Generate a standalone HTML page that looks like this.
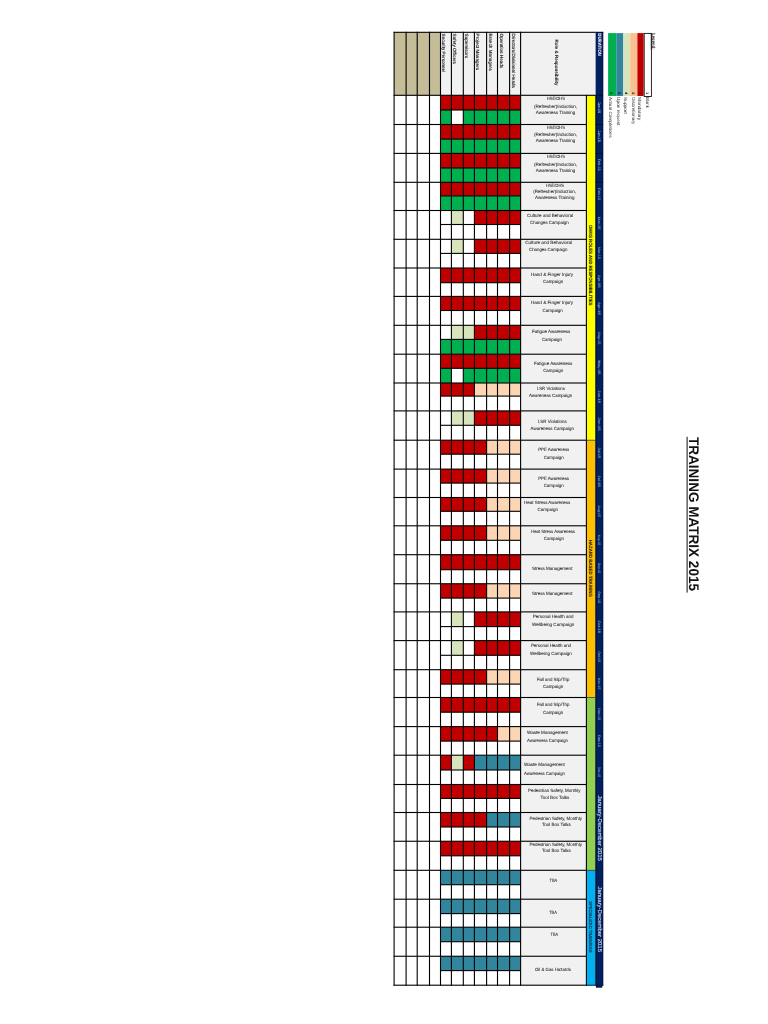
<!DOCTYPE html>
<html lang="en">
<head>
<meta charset="utf-8">
<title>Training Matrix 2015</title>
<style>
html,body{margin:0;padding:0;background:#fff;}
body{width:768px;height:1024px;overflow:hidden;position:relative;}
svg{display:block;position:absolute;left:0;top:0;font-family:"Liberation Sans", sans-serif;}
text{white-space:pre;}
</style>
</head>
<body>
<svg width="768" height="1024" viewBox="0 0 768 1024" shape-rendering="geometricPrecision" text-rendering="geometricPrecision">
<rect x="0" y="0" width="768" height="1024" fill="#ffffff"/>
<rect x="394.10" y="32.30" width="46.40" height="63.00" fill="#c4bd97"/>
<rect x="440.50" y="32.30" width="154.60" height="63.00" fill="#f1f1f1"/>
<rect x="520.60" y="95.30" width="65.80" height="889.90" fill="#f1f1f1"/>
<rect x="440.50" y="95.30" width="10.90" height="14.70" fill="#c00000"/>
<rect x="440.50" y="110.00" width="10.90" height="14.50" fill="#00b050"/>
<rect x="451.40" y="95.30" width="11.90" height="14.70" fill="#c00000"/>
<rect x="463.30" y="95.30" width="11.10" height="14.70" fill="#c00000"/>
<rect x="463.30" y="110.00" width="11.10" height="14.50" fill="#00b050"/>
<rect x="474.40" y="95.30" width="12.20" height="14.70" fill="#c00000"/>
<rect x="474.40" y="110.00" width="12.20" height="14.50" fill="#00b050"/>
<rect x="486.60" y="95.30" width="10.90" height="14.70" fill="#c00000"/>
<rect x="486.60" y="110.00" width="10.90" height="14.50" fill="#00b050"/>
<rect x="497.50" y="95.30" width="12.10" height="14.70" fill="#c00000"/>
<rect x="497.50" y="110.00" width="12.10" height="14.50" fill="#00b050"/>
<rect x="509.60" y="95.30" width="11.00" height="14.70" fill="#c00000"/>
<rect x="509.60" y="110.00" width="11.00" height="14.50" fill="#00b050"/>
<rect x="440.50" y="124.50" width="10.90" height="14.60" fill="#c00000"/>
<rect x="440.50" y="139.10" width="10.90" height="14.30" fill="#00b050"/>
<rect x="451.40" y="124.50" width="11.90" height="14.60" fill="#c00000"/>
<rect x="451.40" y="139.10" width="11.90" height="14.30" fill="#00b050"/>
<rect x="463.30" y="124.50" width="11.10" height="14.60" fill="#c00000"/>
<rect x="463.30" y="139.10" width="11.10" height="14.30" fill="#00b050"/>
<rect x="474.40" y="124.50" width="12.20" height="14.60" fill="#c00000"/>
<rect x="474.40" y="139.10" width="12.20" height="14.30" fill="#00b050"/>
<rect x="486.60" y="124.50" width="10.90" height="14.60" fill="#c00000"/>
<rect x="486.60" y="139.10" width="10.90" height="14.30" fill="#00b050"/>
<rect x="497.50" y="124.50" width="12.10" height="14.60" fill="#c00000"/>
<rect x="497.50" y="139.10" width="12.10" height="14.30" fill="#00b050"/>
<rect x="509.60" y="124.50" width="11.00" height="14.60" fill="#c00000"/>
<rect x="509.60" y="139.10" width="11.00" height="14.30" fill="#00b050"/>
<rect x="440.50" y="153.40" width="10.90" height="14.60" fill="#c00000"/>
<rect x="440.50" y="168.00" width="10.90" height="14.30" fill="#00b050"/>
<rect x="451.40" y="153.40" width="11.90" height="14.60" fill="#c00000"/>
<rect x="451.40" y="168.00" width="11.90" height="14.30" fill="#00b050"/>
<rect x="463.30" y="153.40" width="11.10" height="14.60" fill="#c00000"/>
<rect x="463.30" y="168.00" width="11.10" height="14.30" fill="#00b050"/>
<rect x="474.40" y="153.40" width="12.20" height="14.60" fill="#c00000"/>
<rect x="474.40" y="168.00" width="12.20" height="14.30" fill="#00b050"/>
<rect x="486.60" y="153.40" width="10.90" height="14.60" fill="#c00000"/>
<rect x="486.60" y="168.00" width="10.90" height="14.30" fill="#00b050"/>
<rect x="497.50" y="153.40" width="12.10" height="14.60" fill="#c00000"/>
<rect x="497.50" y="168.00" width="12.10" height="14.30" fill="#00b050"/>
<rect x="509.60" y="153.40" width="11.00" height="14.60" fill="#c00000"/>
<rect x="509.60" y="168.00" width="11.00" height="14.30" fill="#00b050"/>
<rect x="440.50" y="182.30" width="10.90" height="13.60" fill="#c00000"/>
<rect x="440.50" y="195.90" width="10.90" height="14.60" fill="#00b050"/>
<rect x="451.40" y="182.30" width="11.90" height="13.60" fill="#c00000"/>
<rect x="451.40" y="195.90" width="11.90" height="14.60" fill="#00b050"/>
<rect x="463.30" y="182.30" width="11.10" height="13.60" fill="#c00000"/>
<rect x="463.30" y="195.90" width="11.10" height="14.60" fill="#00b050"/>
<rect x="474.40" y="182.30" width="12.20" height="13.60" fill="#c00000"/>
<rect x="474.40" y="195.90" width="12.20" height="14.60" fill="#00b050"/>
<rect x="486.60" y="182.30" width="10.90" height="13.60" fill="#c00000"/>
<rect x="486.60" y="195.90" width="10.90" height="14.60" fill="#00b050"/>
<rect x="497.50" y="182.30" width="12.10" height="13.60" fill="#c00000"/>
<rect x="497.50" y="195.90" width="12.10" height="14.60" fill="#00b050"/>
<rect x="509.60" y="182.30" width="11.00" height="13.60" fill="#c00000"/>
<rect x="509.60" y="195.90" width="11.00" height="14.60" fill="#00b050"/>
<rect x="451.40" y="210.50" width="11.90" height="14.00" fill="#d7e4bc"/>
<rect x="474.40" y="210.50" width="12.20" height="14.00" fill="#c00000"/>
<rect x="486.60" y="210.50" width="10.90" height="14.00" fill="#c00000"/>
<rect x="497.50" y="210.50" width="12.10" height="14.00" fill="#c00000"/>
<rect x="509.60" y="210.50" width="11.00" height="14.00" fill="#c00000"/>
<rect x="451.40" y="239.30" width="11.90" height="14.10" fill="#d7e4bc"/>
<rect x="474.40" y="239.30" width="12.20" height="14.10" fill="#c00000"/>
<rect x="486.60" y="239.30" width="10.90" height="14.10" fill="#c00000"/>
<rect x="497.50" y="239.30" width="12.10" height="14.10" fill="#c00000"/>
<rect x="509.60" y="239.30" width="11.00" height="14.10" fill="#c00000"/>
<rect x="440.50" y="268.00" width="10.90" height="14.70" fill="#c00000"/>
<rect x="451.40" y="268.00" width="11.90" height="14.70" fill="#c00000"/>
<rect x="463.30" y="268.00" width="11.10" height="14.70" fill="#c00000"/>
<rect x="474.40" y="268.00" width="12.20" height="14.70" fill="#c00000"/>
<rect x="486.60" y="268.00" width="10.90" height="14.70" fill="#c00000"/>
<rect x="497.50" y="268.00" width="12.10" height="14.70" fill="#c00000"/>
<rect x="509.60" y="268.00" width="11.00" height="14.70" fill="#c00000"/>
<rect x="440.50" y="296.40" width="10.90" height="14.10" fill="#c00000"/>
<rect x="451.40" y="296.40" width="11.90" height="14.10" fill="#c00000"/>
<rect x="463.30" y="296.40" width="11.10" height="14.10" fill="#c00000"/>
<rect x="474.40" y="296.40" width="12.20" height="14.10" fill="#c00000"/>
<rect x="486.60" y="296.40" width="10.90" height="14.10" fill="#c00000"/>
<rect x="497.50" y="296.40" width="12.10" height="14.10" fill="#c00000"/>
<rect x="509.60" y="296.40" width="11.00" height="14.10" fill="#c00000"/>
<rect x="440.50" y="339.40" width="10.90" height="14.80" fill="#00b050"/>
<rect x="451.40" y="325.30" width="11.90" height="14.10" fill="#d7e4bc"/>
<rect x="451.40" y="339.40" width="11.90" height="14.80" fill="#00b050"/>
<rect x="463.30" y="325.30" width="11.10" height="14.10" fill="#d7e4bc"/>
<rect x="463.30" y="339.40" width="11.10" height="14.80" fill="#00b050"/>
<rect x="474.40" y="325.30" width="12.20" height="14.10" fill="#c00000"/>
<rect x="474.40" y="339.40" width="12.20" height="14.80" fill="#00b050"/>
<rect x="486.60" y="325.30" width="10.90" height="14.10" fill="#c00000"/>
<rect x="486.60" y="339.40" width="10.90" height="14.80" fill="#00b050"/>
<rect x="497.50" y="325.30" width="12.10" height="14.10" fill="#c00000"/>
<rect x="497.50" y="339.40" width="12.10" height="14.80" fill="#00b050"/>
<rect x="509.60" y="325.30" width="11.00" height="14.10" fill="#c00000"/>
<rect x="509.60" y="339.40" width="11.00" height="14.80" fill="#00b050"/>
<rect x="440.50" y="354.20" width="10.90" height="14.10" fill="#c00000"/>
<rect x="440.50" y="368.30" width="10.90" height="14.70" fill="#00b050"/>
<rect x="451.40" y="354.20" width="11.90" height="14.10" fill="#c00000"/>
<rect x="463.30" y="354.20" width="11.10" height="14.10" fill="#c00000"/>
<rect x="463.30" y="368.30" width="11.10" height="14.70" fill="#00b050"/>
<rect x="474.40" y="354.20" width="12.20" height="14.10" fill="#c00000"/>
<rect x="474.40" y="368.30" width="12.20" height="14.70" fill="#00b050"/>
<rect x="486.60" y="354.20" width="10.90" height="14.10" fill="#c00000"/>
<rect x="486.60" y="368.30" width="10.90" height="14.70" fill="#00b050"/>
<rect x="497.50" y="354.20" width="12.10" height="14.10" fill="#c00000"/>
<rect x="497.50" y="368.30" width="12.10" height="14.70" fill="#00b050"/>
<rect x="509.60" y="354.20" width="11.00" height="14.10" fill="#c00000"/>
<rect x="509.60" y="368.30" width="11.00" height="14.70" fill="#00b050"/>
<rect x="440.50" y="383.00" width="10.90" height="13.10" fill="#c00000"/>
<rect x="451.40" y="383.00" width="11.90" height="13.10" fill="#c00000"/>
<rect x="463.30" y="383.00" width="11.10" height="13.10" fill="#c00000"/>
<rect x="474.40" y="383.00" width="12.20" height="13.10" fill="#fcd5b4"/>
<rect x="486.60" y="383.00" width="10.90" height="13.10" fill="#fcd5b4"/>
<rect x="497.50" y="383.00" width="12.10" height="13.10" fill="#fcd5b4"/>
<rect x="509.60" y="383.00" width="11.00" height="13.10" fill="#fcd5b4"/>
<rect x="451.40" y="410.90" width="11.90" height="14.40" fill="#d7e4bc"/>
<rect x="463.30" y="410.90" width="11.10" height="14.40" fill="#d7e4bc"/>
<rect x="474.40" y="410.90" width="12.20" height="14.40" fill="#c00000"/>
<rect x="486.60" y="410.90" width="10.90" height="14.40" fill="#c00000"/>
<rect x="497.50" y="410.90" width="12.10" height="14.40" fill="#c00000"/>
<rect x="509.60" y="410.90" width="11.00" height="14.40" fill="#c00000"/>
<rect x="440.50" y="440.20" width="10.90" height="14.00" fill="#c00000"/>
<rect x="451.40" y="440.20" width="11.90" height="14.00" fill="#c00000"/>
<rect x="463.30" y="440.20" width="11.10" height="14.00" fill="#c00000"/>
<rect x="474.40" y="440.20" width="12.20" height="14.00" fill="#c00000"/>
<rect x="486.60" y="440.20" width="10.90" height="14.00" fill="#fcd5b4"/>
<rect x="497.50" y="440.20" width="12.10" height="14.00" fill="#fcd5b4"/>
<rect x="509.60" y="440.20" width="11.00" height="14.00" fill="#fcd5b4"/>
<rect x="440.50" y="469.10" width="10.90" height="14.00" fill="#c00000"/>
<rect x="451.40" y="469.10" width="11.90" height="14.00" fill="#c00000"/>
<rect x="463.30" y="469.10" width="11.10" height="14.00" fill="#c00000"/>
<rect x="474.40" y="469.10" width="12.20" height="14.00" fill="#c00000"/>
<rect x="486.60" y="469.10" width="10.90" height="14.00" fill="#fcd5b4"/>
<rect x="497.50" y="469.10" width="12.10" height="14.00" fill="#fcd5b4"/>
<rect x="509.60" y="469.10" width="11.00" height="14.00" fill="#fcd5b4"/>
<rect x="440.50" y="497.50" width="10.90" height="13.80" fill="#c00000"/>
<rect x="451.40" y="497.50" width="11.90" height="13.80" fill="#c00000"/>
<rect x="463.30" y="497.50" width="11.10" height="13.80" fill="#c00000"/>
<rect x="474.40" y="497.50" width="12.20" height="13.80" fill="#c00000"/>
<rect x="486.60" y="497.50" width="10.90" height="13.80" fill="#fcd5b4"/>
<rect x="497.50" y="497.50" width="12.10" height="13.80" fill="#fcd5b4"/>
<rect x="509.60" y="497.50" width="11.00" height="13.80" fill="#fcd5b4"/>
<rect x="440.50" y="525.80" width="10.90" height="14.50" fill="#c00000"/>
<rect x="451.40" y="525.80" width="11.90" height="14.50" fill="#c00000"/>
<rect x="463.30" y="525.80" width="11.10" height="14.50" fill="#c00000"/>
<rect x="474.40" y="525.80" width="12.20" height="14.50" fill="#c00000"/>
<rect x="486.60" y="525.80" width="10.90" height="14.50" fill="#fcd5b4"/>
<rect x="497.50" y="525.80" width="12.10" height="14.50" fill="#fcd5b4"/>
<rect x="509.60" y="525.80" width="11.00" height="14.50" fill="#fcd5b4"/>
<rect x="440.50" y="554.70" width="10.90" height="15.00" fill="#c00000"/>
<rect x="451.40" y="554.70" width="11.90" height="15.00" fill="#c00000"/>
<rect x="463.30" y="554.70" width="11.10" height="15.00" fill="#c00000"/>
<rect x="474.40" y="554.70" width="12.20" height="15.00" fill="#c00000"/>
<rect x="486.60" y="554.70" width="10.90" height="15.00" fill="#c00000"/>
<rect x="497.50" y="554.70" width="12.10" height="15.00" fill="#c00000"/>
<rect x="509.60" y="554.70" width="11.00" height="15.00" fill="#c00000"/>
<rect x="440.50" y="583.75" width="10.90" height="14.35" fill="#c00000"/>
<rect x="451.40" y="583.75" width="11.90" height="14.35" fill="#c00000"/>
<rect x="463.30" y="583.75" width="11.10" height="14.35" fill="#c00000"/>
<rect x="474.40" y="583.75" width="12.20" height="14.35" fill="#c00000"/>
<rect x="486.60" y="583.75" width="10.90" height="14.35" fill="#fcd5b4"/>
<rect x="497.50" y="583.75" width="12.10" height="14.35" fill="#fcd5b4"/>
<rect x="509.60" y="583.75" width="11.00" height="14.35" fill="#fcd5b4"/>
<rect x="451.40" y="611.90" width="11.90" height="14.70" fill="#d7e4bc"/>
<rect x="474.40" y="611.90" width="12.20" height="14.70" fill="#c00000"/>
<rect x="486.60" y="611.90" width="10.90" height="14.70" fill="#c00000"/>
<rect x="497.50" y="611.90" width="12.10" height="14.70" fill="#c00000"/>
<rect x="509.60" y="611.90" width="11.00" height="14.70" fill="#c00000"/>
<rect x="451.40" y="640.60" width="11.90" height="14.70" fill="#d7e4bc"/>
<rect x="474.40" y="640.60" width="12.20" height="14.70" fill="#c00000"/>
<rect x="486.60" y="640.60" width="10.90" height="14.70" fill="#c00000"/>
<rect x="497.50" y="640.60" width="12.10" height="14.70" fill="#c00000"/>
<rect x="509.60" y="640.60" width="11.00" height="14.70" fill="#c00000"/>
<rect x="440.50" y="669.70" width="10.90" height="14.40" fill="#c00000"/>
<rect x="451.40" y="669.70" width="11.90" height="14.40" fill="#c00000"/>
<rect x="463.30" y="669.70" width="11.10" height="14.40" fill="#c00000"/>
<rect x="474.40" y="669.70" width="12.20" height="14.40" fill="#c00000"/>
<rect x="486.60" y="669.70" width="10.90" height="14.40" fill="#fcd5b4"/>
<rect x="497.50" y="669.70" width="12.10" height="14.40" fill="#fcd5b4"/>
<rect x="509.60" y="669.70" width="11.00" height="14.40" fill="#fcd5b4"/>
<rect x="440.50" y="697.50" width="10.90" height="14.70" fill="#c00000"/>
<rect x="451.40" y="697.50" width="11.90" height="14.70" fill="#c00000"/>
<rect x="463.30" y="697.50" width="11.10" height="14.70" fill="#c00000"/>
<rect x="474.40" y="697.50" width="12.20" height="14.70" fill="#c00000"/>
<rect x="486.60" y="697.50" width="10.90" height="14.70" fill="#c00000"/>
<rect x="497.50" y="697.50" width="12.10" height="14.70" fill="#c00000"/>
<rect x="509.60" y="697.50" width="11.00" height="14.70" fill="#c00000"/>
<rect x="440.50" y="726.60" width="10.90" height="14.50" fill="#c00000"/>
<rect x="451.40" y="726.60" width="11.90" height="14.50" fill="#c00000"/>
<rect x="463.30" y="726.60" width="11.10" height="14.50" fill="#c00000"/>
<rect x="474.40" y="726.60" width="12.20" height="14.50" fill="#c00000"/>
<rect x="486.60" y="726.60" width="10.90" height="14.50" fill="#c00000"/>
<rect x="497.50" y="726.60" width="12.10" height="14.50" fill="#fcd5b4"/>
<rect x="509.60" y="726.60" width="11.00" height="14.50" fill="#fcd5b4"/>
<rect x="440.50" y="755.20" width="10.90" height="14.80" fill="#c00000"/>
<rect x="451.40" y="755.20" width="11.90" height="14.80" fill="#d7e4bc"/>
<rect x="463.30" y="755.20" width="11.10" height="14.80" fill="#c00000"/>
<rect x="474.40" y="755.20" width="12.20" height="14.80" fill="#31859c"/>
<rect x="486.60" y="755.20" width="10.90" height="14.80" fill="#31859c"/>
<rect x="497.50" y="755.20" width="12.10" height="14.80" fill="#31859c"/>
<rect x="509.60" y="755.20" width="11.00" height="14.80" fill="#31859c"/>
<rect x="440.50" y="784.50" width="10.90" height="13.90" fill="#c00000"/>
<rect x="451.40" y="784.50" width="11.90" height="13.90" fill="#c00000"/>
<rect x="463.30" y="784.50" width="11.10" height="13.90" fill="#c00000"/>
<rect x="474.40" y="784.50" width="12.20" height="13.90" fill="#c00000"/>
<rect x="486.60" y="784.50" width="10.90" height="13.90" fill="#c00000"/>
<rect x="497.50" y="784.50" width="12.10" height="13.90" fill="#c00000"/>
<rect x="509.60" y="784.50" width="11.00" height="13.90" fill="#c00000"/>
<rect x="440.50" y="812.50" width="10.90" height="14.50" fill="#c00000"/>
<rect x="451.40" y="812.50" width="11.90" height="14.50" fill="#c00000"/>
<rect x="463.30" y="812.50" width="11.10" height="14.50" fill="#c00000"/>
<rect x="474.40" y="812.50" width="12.20" height="14.50" fill="#c00000"/>
<rect x="486.60" y="812.50" width="10.90" height="14.50" fill="#31859c"/>
<rect x="497.50" y="812.50" width="12.10" height="14.50" fill="#31859c"/>
<rect x="509.60" y="812.50" width="11.00" height="14.50" fill="#31859c"/>
<rect x="440.50" y="841.25" width="10.90" height="14.55" fill="#c00000"/>
<rect x="451.40" y="841.25" width="11.90" height="14.55" fill="#c00000"/>
<rect x="463.30" y="841.25" width="11.10" height="14.55" fill="#c00000"/>
<rect x="474.40" y="841.25" width="12.20" height="14.55" fill="#c00000"/>
<rect x="486.60" y="841.25" width="10.90" height="14.55" fill="#c00000"/>
<rect x="497.50" y="841.25" width="12.10" height="14.55" fill="#c00000"/>
<rect x="509.60" y="841.25" width="11.00" height="14.55" fill="#c00000"/>
<rect x="440.50" y="870.30" width="10.90" height="14.40" fill="#31859c"/>
<rect x="451.40" y="870.30" width="11.90" height="14.40" fill="#31859c"/>
<rect x="463.30" y="870.30" width="11.10" height="14.40" fill="#31859c"/>
<rect x="474.40" y="870.30" width="12.20" height="14.40" fill="#31859c"/>
<rect x="486.60" y="870.30" width="10.90" height="14.40" fill="#31859c"/>
<rect x="497.50" y="870.30" width="12.10" height="14.40" fill="#31859c"/>
<rect x="509.60" y="870.30" width="11.00" height="14.40" fill="#31859c"/>
<rect x="440.50" y="899.20" width="10.90" height="14.40" fill="#31859c"/>
<rect x="451.40" y="899.20" width="11.90" height="14.40" fill="#31859c"/>
<rect x="463.30" y="899.20" width="11.10" height="14.40" fill="#31859c"/>
<rect x="474.40" y="899.20" width="12.20" height="14.40" fill="#31859c"/>
<rect x="486.60" y="899.20" width="10.90" height="14.40" fill="#31859c"/>
<rect x="497.50" y="899.20" width="12.10" height="14.40" fill="#31859c"/>
<rect x="509.60" y="899.20" width="11.00" height="14.40" fill="#31859c"/>
<rect x="440.50" y="927.20" width="10.90" height="14.50" fill="#31859c"/>
<rect x="451.40" y="927.20" width="11.90" height="14.50" fill="#31859c"/>
<rect x="463.30" y="927.20" width="11.10" height="14.50" fill="#31859c"/>
<rect x="474.40" y="927.20" width="12.20" height="14.50" fill="#31859c"/>
<rect x="486.60" y="927.20" width="10.90" height="14.50" fill="#31859c"/>
<rect x="497.50" y="927.20" width="12.10" height="14.50" fill="#31859c"/>
<rect x="509.60" y="927.20" width="11.00" height="14.50" fill="#31859c"/>
<rect x="440.50" y="956.25" width="10.90" height="14.35" fill="#31859c"/>
<rect x="451.40" y="956.25" width="11.90" height="14.35" fill="#31859c"/>
<rect x="463.30" y="956.25" width="11.10" height="14.35" fill="#31859c"/>
<rect x="474.40" y="956.25" width="12.20" height="14.35" fill="#31859c"/>
<rect x="486.60" y="956.25" width="10.90" height="14.35" fill="#31859c"/>
<rect x="497.50" y="956.25" width="12.10" height="14.35" fill="#31859c"/>
<rect x="509.60" y="956.25" width="11.00" height="14.35" fill="#31859c"/>
<rect x="587.00" y="95.30" width="8.50" height="344.90" fill="#ffff00"/>
<rect x="587.00" y="440.20" width="8.50" height="257.30" fill="#ffc000"/>
<rect x="587.00" y="697.50" width="8.50" height="172.80" fill="#92d050"/>
<rect x="587.00" y="870.30" width="8.50" height="115.30" fill="#00b0f0"/>
<rect x="595.60" y="31.90" width="7.40" height="953.80" fill="#002060"/>
<rect x="595.90" y="985.20" width="6.40" height="2.50" fill="#001a50"/>
<rect x="602.50" y="31.90" width="0.80" height="953.90" fill="#00103a"/>
<rect x="393.55" y="31.80" width="1.10" height="953.90" fill="#000"/>
<rect x="405.55" y="31.80" width="1.10" height="953.90" fill="#000"/>
<rect x="416.65" y="31.80" width="1.10" height="953.90" fill="#000"/>
<rect x="428.95" y="31.80" width="1.10" height="953.90" fill="#000"/>
<rect x="439.95" y="31.80" width="1.10" height="953.90" fill="#000"/>
<rect x="450.85" y="31.80" width="1.10" height="953.90" fill="#000"/>
<rect x="462.75" y="31.80" width="1.10" height="953.90" fill="#000"/>
<rect x="473.85" y="31.80" width="1.10" height="953.90" fill="#000"/>
<rect x="486.05" y="31.80" width="1.10" height="953.90" fill="#000"/>
<rect x="496.95" y="31.80" width="1.10" height="953.90" fill="#000"/>
<rect x="509.05" y="31.80" width="1.10" height="953.90" fill="#000"/>
<rect x="520.05" y="31.80" width="1.10" height="953.90" fill="#000"/>
<rect x="585.85" y="95.30" width="1.10" height="890.40" fill="#000"/>
<rect x="595.40" y="95.30" width="1.10" height="890.40" fill="#000d20"/>
<rect x="393.60" y="31.75" width="202.00" height="1.10" fill="#000"/>
<rect x="595.60" y="31.85" width="7.70" height="0.90" fill="#000a2a"/>
<rect x="586.40" y="984.75" width="16.90" height="0.90" fill="#04143a"/>
<rect x="393.60" y="94.75" width="193.30" height="1.10" fill="#000"/>
<rect x="393.60" y="123.95" width="193.30" height="1.10" fill="#000"/>
<rect x="393.60" y="152.85" width="193.30" height="1.10" fill="#000"/>
<rect x="393.60" y="181.75" width="193.30" height="1.10" fill="#000"/>
<rect x="393.60" y="209.95" width="193.30" height="1.10" fill="#000"/>
<rect x="393.60" y="238.75" width="193.30" height="1.10" fill="#000"/>
<rect x="393.60" y="267.45" width="193.30" height="1.10" fill="#000"/>
<rect x="393.60" y="295.85" width="193.30" height="1.10" fill="#000"/>
<rect x="393.60" y="324.75" width="193.30" height="1.10" fill="#000"/>
<rect x="393.60" y="353.65" width="193.30" height="1.10" fill="#000"/>
<rect x="393.60" y="382.45" width="193.30" height="1.10" fill="#000"/>
<rect x="393.60" y="410.35" width="193.30" height="1.10" fill="#000"/>
<rect x="393.60" y="439.65" width="193.30" height="1.10" fill="#000"/>
<rect x="393.60" y="468.55" width="193.30" height="1.10" fill="#000"/>
<rect x="393.60" y="496.95" width="193.30" height="1.10" fill="#000"/>
<rect x="393.60" y="525.25" width="193.30" height="1.10" fill="#000"/>
<rect x="393.60" y="554.15" width="193.30" height="1.10" fill="#000"/>
<rect x="393.60" y="583.20" width="193.30" height="1.10" fill="#000"/>
<rect x="393.60" y="611.35" width="193.30" height="1.10" fill="#000"/>
<rect x="393.60" y="640.05" width="193.30" height="1.10" fill="#000"/>
<rect x="393.60" y="669.15" width="193.30" height="1.10" fill="#000"/>
<rect x="393.60" y="696.95" width="193.30" height="1.10" fill="#000"/>
<rect x="393.60" y="726.05" width="193.30" height="1.10" fill="#000"/>
<rect x="393.60" y="754.65" width="193.30" height="1.10" fill="#000"/>
<rect x="393.60" y="783.95" width="193.30" height="1.10" fill="#000"/>
<rect x="393.60" y="811.95" width="193.30" height="1.10" fill="#000"/>
<rect x="393.60" y="840.70" width="193.30" height="1.10" fill="#000"/>
<rect x="393.60" y="869.75" width="193.30" height="1.10" fill="#000"/>
<rect x="393.60" y="898.65" width="193.30" height="1.10" fill="#000"/>
<rect x="393.60" y="926.65" width="193.30" height="1.10" fill="#000"/>
<rect x="393.60" y="955.70" width="193.30" height="1.10" fill="#000"/>
<rect x="393.60" y="984.65" width="193.30" height="1.10" fill="#000"/>
<rect x="586.40" y="94.75" width="9.20" height="1.10" fill="#000"/>
<rect x="440.50" y="109.45" width="80.10" height="1.10" fill="#000"/>
<rect x="440.50" y="138.55" width="80.10" height="1.10" fill="#000"/>
<rect x="440.50" y="167.45" width="80.10" height="1.10" fill="#000"/>
<rect x="440.50" y="195.35" width="80.10" height="1.10" fill="#000"/>
<rect x="440.50" y="223.95" width="80.10" height="1.10" fill="#000"/>
<rect x="440.50" y="252.85" width="80.10" height="1.10" fill="#000"/>
<rect x="440.50" y="282.15" width="80.10" height="1.10" fill="#000"/>
<rect x="440.50" y="309.95" width="80.10" height="1.10" fill="#000"/>
<rect x="440.50" y="338.85" width="80.10" height="1.10" fill="#000"/>
<rect x="440.50" y="367.75" width="80.10" height="1.10" fill="#000"/>
<rect x="440.50" y="395.55" width="80.10" height="1.10" fill="#000"/>
<rect x="440.50" y="424.75" width="80.10" height="1.10" fill="#000"/>
<rect x="440.50" y="453.65" width="80.10" height="1.10" fill="#000"/>
<rect x="440.50" y="482.55" width="80.10" height="1.10" fill="#000"/>
<rect x="440.50" y="510.75" width="80.10" height="1.10" fill="#000"/>
<rect x="440.50" y="539.75" width="80.10" height="1.10" fill="#000"/>
<rect x="440.50" y="569.15" width="80.10" height="1.10" fill="#000"/>
<rect x="440.50" y="597.55" width="80.10" height="1.10" fill="#000"/>
<rect x="440.50" y="626.05" width="80.10" height="1.10" fill="#000"/>
<rect x="440.50" y="654.75" width="80.10" height="1.10" fill="#000"/>
<rect x="440.50" y="683.55" width="80.10" height="1.10" fill="#000"/>
<rect x="440.50" y="711.65" width="80.10" height="1.10" fill="#000"/>
<rect x="440.50" y="740.55" width="80.10" height="1.10" fill="#000"/>
<rect x="440.50" y="769.45" width="80.10" height="1.10" fill="#000"/>
<rect x="440.50" y="797.85" width="80.10" height="1.10" fill="#000"/>
<rect x="440.50" y="826.45" width="80.10" height="1.10" fill="#000"/>
<rect x="440.50" y="855.25" width="80.10" height="1.10" fill="#000"/>
<rect x="440.50" y="884.15" width="80.10" height="1.10" fill="#000"/>
<rect x="440.50" y="913.05" width="80.10" height="1.10" fill="#000"/>
<rect x="440.50" y="941.15" width="80.10" height="1.10" fill="#000"/>
<rect x="440.50" y="970.05" width="80.10" height="1.10" fill="#000"/>
<rect x="595.60" y="94.85" width="7.40" height="0.90" fill="#000a2a"/>
<rect x="595.60" y="124.05" width="7.40" height="0.90" fill="#000a2a"/>
<rect x="595.60" y="152.95" width="7.40" height="0.90" fill="#000a2a"/>
<rect x="595.60" y="181.85" width="7.40" height="0.90" fill="#000a2a"/>
<rect x="586.40" y="439.80" width="9.20" height="0.80" fill="#333"/>
<rect x="586.40" y="697.10" width="9.20" height="0.80" fill="#333"/>
<rect x="586.40" y="869.90" width="9.20" height="0.80" fill="#333"/>
<text transform="translate(442.20 33.60) rotate(90)" font-size="4.6" fill="#0a0a0a" font-weight="normal" stroke="#0a0a0a" stroke-width="0.1" textLength="38.60" lengthAdjust="spacingAndGlyphs">Security Personnel</text>
<text transform="translate(453.40 33.60) rotate(90)" font-size="4.6" fill="#0a0a0a" font-weight="normal" stroke="#0a0a0a" stroke-width="0.1" textLength="30.20" lengthAdjust="spacingAndGlyphs">Safety Officers</text>
<text transform="translate(465.30 33.60) rotate(90)" font-size="4.6" fill="#0a0a0a" font-weight="normal" stroke="#0a0a0a" stroke-width="0.1" textLength="24.40" lengthAdjust="spacingAndGlyphs">Supervisors</text>
<text transform="translate(476.40 33.60) rotate(90)" font-size="4.6" fill="#0a0a0a" font-weight="normal" stroke="#0a0a0a" stroke-width="0.1" textLength="36.50" lengthAdjust="spacingAndGlyphs">Project Managers</text>
<text transform="translate(488.60 33.60) rotate(90)" font-size="4.6" fill="#0a0a0a" font-weight="normal" stroke="#0a0a0a" stroke-width="0.1" textLength="36.90" lengthAdjust="spacingAndGlyphs">Branch Managers</text>
<text transform="translate(499.50 33.60) rotate(90)" font-size="4.6" fill="#0a0a0a" font-weight="normal" stroke="#0a0a0a" stroke-width="0.1" textLength="34.40" lengthAdjust="spacingAndGlyphs">Operation Heads</text>
<text transform="translate(511.60 33.60) rotate(90)" font-size="4.6" fill="#0a0a0a" font-weight="normal" stroke="#0a0a0a" stroke-width="0.1" textLength="54.30" lengthAdjust="spacingAndGlyphs">Directors/Divisional Heads</text>
<text transform="translate(555.40 39.50) rotate(90)" font-size="4.7" fill="#111" font-weight="bold" textLength="46.00" lengthAdjust="spacingAndGlyphs">Role &amp; Responsibility</text>
<text transform="translate(597.70 33.30) rotate(90)" font-size="4.8" fill="#ffffff" font-weight="bold" textLength="22.70" lengthAdjust="spacingAndGlyphs">DURATION</text>
<text x="546.80" y="100.32" font-size="4.6" fill="#1c1c1c" font-weight="normal" stroke="#1c1c1c" stroke-width="0.05" textLength="18.10" lengthAdjust="spacingAndGlyphs">HSE/OHS</text>
<text x="534.00" y="107.62" font-size="4.6" fill="#1c1c1c" font-weight="normal" stroke="#1c1c1c" stroke-width="0.05" textLength="43.10" lengthAdjust="spacingAndGlyphs">(Refresher)Induction,</text>
<text x="535.80" y="113.72" font-size="4.6" fill="#1c1c1c" font-weight="normal" stroke="#1c1c1c" stroke-width="0.05" textLength="39.50" lengthAdjust="spacingAndGlyphs">Awareness Training</text>
<text x="546.80" y="129.22" font-size="4.6" fill="#1c1c1c" font-weight="normal" stroke="#1c1c1c" stroke-width="0.05" textLength="18.10" lengthAdjust="spacingAndGlyphs">HSE/OHS</text>
<text x="534.00" y="136.32" font-size="4.6" fill="#1c1c1c" font-weight="normal" stroke="#1c1c1c" stroke-width="0.05" textLength="43.10" lengthAdjust="spacingAndGlyphs">(Refresher)Induction,</text>
<text x="535.80" y="142.42" font-size="4.6" fill="#1c1c1c" font-weight="normal" stroke="#1c1c1c" stroke-width="0.05" textLength="39.50" lengthAdjust="spacingAndGlyphs">Awareness Training</text>
<text x="546.80" y="158.27" font-size="4.6" fill="#1c1c1c" font-weight="normal" stroke="#1c1c1c" stroke-width="0.05" textLength="18.10" lengthAdjust="spacingAndGlyphs">HSE/OHS</text>
<text x="534.00" y="165.62" font-size="4.6" fill="#1c1c1c" font-weight="normal" stroke="#1c1c1c" stroke-width="0.05" textLength="43.10" lengthAdjust="spacingAndGlyphs">(Refresher)Induction,</text>
<text x="535.80" y="171.62" font-size="4.6" fill="#1c1c1c" font-weight="normal" stroke="#1c1c1c" stroke-width="0.05" textLength="39.50" lengthAdjust="spacingAndGlyphs">Awareness Training</text>
<text x="546.00" y="187.02" font-size="4.6" fill="#1c1c1c" font-weight="normal" stroke="#1c1c1c" stroke-width="0.05" textLength="18.00" lengthAdjust="spacingAndGlyphs">HSE/OHS</text>
<text x="533.20" y="193.42" font-size="4.6" fill="#1c1c1c" font-weight="normal" stroke="#1c1c1c" stroke-width="0.05" textLength="42.80" lengthAdjust="spacingAndGlyphs">(Refresher)Induction,</text>
<text x="535.00" y="199.02" font-size="4.6" fill="#1c1c1c" font-weight="normal" stroke="#1c1c1c" stroke-width="0.05" textLength="39.50" lengthAdjust="spacingAndGlyphs">Awareness Training</text>
<text x="527.00" y="217.22" font-size="4.6" fill="#1c1c1c" font-weight="normal" stroke="#1c1c1c" stroke-width="0.05" textLength="46.20" lengthAdjust="spacingAndGlyphs">Culture and Behavioral</text>
<text x="530.10" y="224.32" font-size="4.6" fill="#1c1c1c" font-weight="normal" stroke="#1c1c1c" stroke-width="0.05" textLength="38.60" lengthAdjust="spacingAndGlyphs">Changes Campaign</text>
<text x="525.20" y="243.82" font-size="4.6" fill="#1c1c1c" font-weight="normal" stroke="#1c1c1c" stroke-width="0.05" textLength="47.00" lengthAdjust="spacingAndGlyphs">Culture and Behavioral</text>
<text x="529.00" y="251.17" font-size="4.6" fill="#1c1c1c" font-weight="normal" stroke="#1c1c1c" stroke-width="0.05" textLength="38.40" lengthAdjust="spacingAndGlyphs">Changes Campaign</text>
<text x="530.90" y="275.92" font-size="4.6" fill="#1c1c1c" font-weight="normal" stroke="#1c1c1c" stroke-width="0.05" textLength="42.30" lengthAdjust="spacingAndGlyphs">Hand &amp; Finger Injury</text>
<text x="543.00" y="283.22" font-size="4.6" fill="#1c1c1c" font-weight="normal" stroke="#1c1c1c" stroke-width="0.05" textLength="20.20" lengthAdjust="spacingAndGlyphs">Campaign</text>
<text x="530.90" y="303.92" font-size="4.6" fill="#1c1c1c" font-weight="normal" stroke="#1c1c1c" stroke-width="0.05" textLength="42.30" lengthAdjust="spacingAndGlyphs">Hand &amp; Finger Injury</text>
<text x="542.60" y="312.32" font-size="4.6" fill="#1c1c1c" font-weight="normal" stroke="#1c1c1c" stroke-width="0.05" textLength="20.20" lengthAdjust="spacingAndGlyphs">Campaign</text>
<text x="532.00" y="333.02" font-size="4.6" fill="#1c1c1c" font-weight="normal" stroke="#1c1c1c" stroke-width="0.05" textLength="38.30" lengthAdjust="spacingAndGlyphs">Fatigue Awareness</text>
<text x="541.90" y="341.22" font-size="4.6" fill="#1c1c1c" font-weight="normal" stroke="#1c1c1c" stroke-width="0.05" textLength="20.10" lengthAdjust="spacingAndGlyphs">Campaign</text>
<text x="534.10" y="365.02" font-size="4.6" fill="#1c1c1c" font-weight="normal" stroke="#1c1c1c" stroke-width="0.05" textLength="38.30" lengthAdjust="spacingAndGlyphs">Fatigue Awareness</text>
<text x="543.20" y="372.12" font-size="4.6" fill="#1c1c1c" font-weight="normal" stroke="#1c1c1c" stroke-width="0.05" textLength="20.00" lengthAdjust="spacingAndGlyphs">Campaign</text>
<text x="536.90" y="389.62" font-size="4.6" fill="#1c1c1c" font-weight="normal" stroke="#1c1c1c" stroke-width="0.05" textLength="28.00" lengthAdjust="spacingAndGlyphs">LSR Violations</text>
<text x="529.00" y="396.92" font-size="4.6" fill="#1c1c1c" font-weight="normal" stroke="#1c1c1c" stroke-width="0.05" textLength="43.20" lengthAdjust="spacingAndGlyphs">Awareness Campaign</text>
<text x="537.90" y="423.02" font-size="4.6" fill="#1c1c1c" font-weight="normal" stroke="#1c1c1c" stroke-width="0.05" textLength="28.75" lengthAdjust="spacingAndGlyphs">LSR Violations</text>
<text x="530.60" y="430.12" font-size="4.6" fill="#1c1c1c" font-weight="normal" stroke="#1c1c1c" stroke-width="0.05" textLength="43.40" lengthAdjust="spacingAndGlyphs">Awareness Campaign</text>
<text x="538.20" y="450.97" font-size="4.6" fill="#1c1c1c" font-weight="normal" stroke="#1c1c1c" stroke-width="0.05" textLength="31.10" lengthAdjust="spacingAndGlyphs">PPE Awareness</text>
<text x="543.70" y="459.12" font-size="4.6" fill="#1c1c1c" font-weight="normal" stroke="#1c1c1c" stroke-width="0.05" textLength="20.10" lengthAdjust="spacingAndGlyphs">Campaign</text>
<text x="538.20" y="479.82" font-size="4.6" fill="#1c1c1c" font-weight="normal" stroke="#1c1c1c" stroke-width="0.05" textLength="30.80" lengthAdjust="spacingAndGlyphs">PPE Awareness</text>
<text x="543.70" y="487.12" font-size="4.6" fill="#1c1c1c" font-weight="normal" stroke="#1c1c1c" stroke-width="0.05" textLength="20.10" lengthAdjust="spacingAndGlyphs">Campaign</text>
<text x="524.10" y="503.72" font-size="4.6" fill="#1c1c1c" font-weight="normal" stroke="#1c1c1c" stroke-width="0.05" textLength="46.20" lengthAdjust="spacingAndGlyphs">Heat Stress Awareness</text>
<text x="537.60" y="510.82" font-size="4.6" fill="#1c1c1c" font-weight="normal" stroke="#1c1c1c" stroke-width="0.05" textLength="20.40" lengthAdjust="spacingAndGlyphs">Campaign</text>
<text x="531.10" y="532.82" font-size="4.6" fill="#1c1c1c" font-weight="normal" stroke="#1c1c1c" stroke-width="0.05" textLength="43.90" lengthAdjust="spacingAndGlyphs">Heat Stress Awareness</text>
<text x="543.70" y="539.82" font-size="4.6" fill="#1c1c1c" font-weight="normal" stroke="#1c1c1c" stroke-width="0.05" textLength="20.30" lengthAdjust="spacingAndGlyphs">Campaign</text>
<text x="531.90" y="569.82" font-size="4.6" fill="#1c1c1c" font-weight="normal" stroke="#1c1c1c" stroke-width="0.05" textLength="40.50" lengthAdjust="spacingAndGlyphs">Stress Management</text>
<text x="531.90" y="594.52" font-size="4.6" fill="#1c1c1c" font-weight="normal" stroke="#1c1c1c" stroke-width="0.05" textLength="40.50" lengthAdjust="spacingAndGlyphs">Stress Management</text>
<text x="532.70" y="618.32" font-size="4.6" fill="#1c1c1c" font-weight="normal" stroke="#1c1c1c" stroke-width="0.05" textLength="40.70" lengthAdjust="spacingAndGlyphs">Personal Health and</text>
<text x="532.00" y="625.67" font-size="4.6" fill="#1c1c1c" font-weight="normal" stroke="#1c1c1c" stroke-width="0.05" textLength="42.30" lengthAdjust="spacingAndGlyphs">Wellbeing Campaign</text>
<text x="530.90" y="647.32" font-size="4.6" fill="#1c1c1c" font-weight="normal" stroke="#1c1c1c" stroke-width="0.05" textLength="40.20" lengthAdjust="spacingAndGlyphs">Personal Health and</text>
<text x="530.10" y="654.72" font-size="4.6" fill="#1c1c1c" font-weight="normal" stroke="#1c1c1c" stroke-width="0.05" textLength="41.80" lengthAdjust="spacingAndGlyphs">Wellbeing Campaign</text>
<text x="536.90" y="680.62" font-size="4.6" fill="#1c1c1c" font-weight="normal" stroke="#1c1c1c" stroke-width="0.05" textLength="32.40" lengthAdjust="spacingAndGlyphs">Fall and Slip/Trip</text>
<text x="543.00" y="687.77" font-size="4.6" fill="#1c1c1c" font-weight="normal" stroke="#1c1c1c" stroke-width="0.05" textLength="20.20" lengthAdjust="spacingAndGlyphs">Campaign</text>
<text x="536.90" y="706.42" font-size="4.6" fill="#1c1c1c" font-weight="normal" stroke="#1c1c1c" stroke-width="0.05" textLength="32.40" lengthAdjust="spacingAndGlyphs">Fall and Slip/Trip</text>
<text x="543.00" y="713.77" font-size="4.6" fill="#1c1c1c" font-weight="normal" stroke="#1c1c1c" stroke-width="0.05" textLength="20.20" lengthAdjust="spacingAndGlyphs">Campaign</text>
<text x="527.00" y="734.22" font-size="4.6" fill="#1c1c1c" font-weight="normal" stroke="#1c1c1c" stroke-width="0.05" textLength="40.90" lengthAdjust="spacingAndGlyphs">Waste Management</text>
<text x="527.00" y="741.52" font-size="4.6" fill="#1c1c1c" font-weight="normal" stroke="#1c1c1c" stroke-width="0.05" textLength="40.90" lengthAdjust="spacingAndGlyphs">Awareness Campaign</text>
<text x="524.10" y="766.32" font-size="4.6" fill="#1c1c1c" font-weight="normal" stroke="#1c1c1c" stroke-width="0.05" textLength="40.80" lengthAdjust="spacingAndGlyphs">Waste Management</text>
<text x="524.10" y="774.72" font-size="4.6" fill="#1c1c1c" font-weight="normal" stroke="#1c1c1c" stroke-width="0.05" textLength="40.80" lengthAdjust="spacingAndGlyphs">Awareness Campaign</text>
<text x="528.00" y="792.22" font-size="4.6" fill="#1c1c1c" font-weight="normal" stroke="#1c1c1c" stroke-width="0.05" textLength="52.50" lengthAdjust="spacingAndGlyphs">Pedestrian Safety, Monthly</text>
<text x="540.50" y="798.52" font-size="4.6" fill="#1c1c1c" font-weight="normal" stroke="#1c1c1c" stroke-width="0.05" textLength="28.80" lengthAdjust="spacingAndGlyphs">Tool Box Talks</text>
<text x="529.60" y="820.12" font-size="4.6" fill="#1c1c1c" font-weight="normal" stroke="#1c1c1c" stroke-width="0.05" textLength="52.40" lengthAdjust="spacingAndGlyphs">Pedestrian Safety, Monthly</text>
<text x="541.90" y="826.22" font-size="4.6" fill="#1c1c1c" font-weight="normal" stroke="#1c1c1c" stroke-width="0.05" textLength="28.90" lengthAdjust="spacingAndGlyphs">Tool Box Talks</text>
<text x="529.60" y="846.12" font-size="4.6" fill="#1c1c1c" font-weight="normal" stroke="#1c1c1c" stroke-width="0.05" textLength="52.40" lengthAdjust="spacingAndGlyphs">Pedestrian Safety, Monthly</text>
<text x="541.90" y="852.22" font-size="4.6" fill="#1c1c1c" font-weight="normal" stroke="#1c1c1c" stroke-width="0.05" textLength="28.90" lengthAdjust="spacingAndGlyphs">Tool Box Talks</text>
<text x="549.60" y="882.22" font-size="4.6" fill="#1c1c1c" font-weight="normal" stroke="#1c1c1c" stroke-width="0.05" textLength="7.65" lengthAdjust="spacingAndGlyphs">TBA</text>
<text x="549.20" y="914.07" font-size="4.6" fill="#1c1c1c" font-weight="normal" stroke="#1c1c1c" stroke-width="0.05" textLength="7.70" lengthAdjust="spacingAndGlyphs">TBA</text>
<text x="550.50" y="935.92" font-size="4.6" fill="#1c1c1c" font-weight="normal" stroke="#1c1c1c" stroke-width="0.05" textLength="7.60" lengthAdjust="spacingAndGlyphs">TBA</text>
<text x="535.00" y="970.97" font-size="4.6" fill="#1c1c1c" font-weight="normal" stroke="#1c1c1c" stroke-width="0.05" textLength="35.80" lengthAdjust="spacingAndGlyphs">Oil &amp; Gas Hazards</text>
<text transform="translate(589.20 224.90) rotate(90)" font-size="4.7" fill="#1c1c00" font-weight="bold" stroke="#1c1c00" stroke-width="0.08" textLength="80.60" lengthAdjust="spacingAndGlyphs">OHMS ROLES AND RESPONSIBILITIES</text>
<text transform="translate(589.20 539.70) rotate(90)" font-size="4.7" fill="#2a1c00" font-weight="bold" stroke="#2a1c00" stroke-width="0.08" textLength="57.10" lengthAdjust="spacingAndGlyphs">HAZARD BASED TRAINING</text>
<text transform="translate(589.30 901.20) rotate(90)" font-size="4.4" fill="#003a5c" font-weight="bold" stroke="#003a5c" stroke-width="0.1" textLength="51.40" lengthAdjust="spacingAndGlyphs">SPECIALIZED TRAININGS</text>
<text transform="translate(597.75 101.90) rotate(90)" font-size="3.4" fill="#a9c4ea" font-weight="normal" stroke="#a9c4ea" stroke-width="0.1" textLength="11.20" lengthAdjust="spacingAndGlyphs">Jan-15</text>
<text transform="translate(597.75 130.60) rotate(90)" font-size="3.4" fill="#a9c4ea" font-weight="normal" stroke="#a9c4ea" stroke-width="0.1" textLength="11.30" lengthAdjust="spacingAndGlyphs">Jan-15</text>
<text transform="translate(597.75 158.75) rotate(90)" font-size="3.4" fill="#7f9fd6" font-weight="normal" stroke="#7f9fd6" stroke-width="0.1" textLength="11.85" lengthAdjust="spacingAndGlyphs">Feb-15</text>
<text transform="translate(597.75 188.10) rotate(90)" font-size="3.4" fill="#7f9fd6" font-weight="normal" stroke="#7f9fd6" stroke-width="0.1" textLength="11.90" lengthAdjust="spacingAndGlyphs">Feb-15</text>
<text transform="translate(597.75 216.90) rotate(90)" font-size="3.4" fill="#7f9fd6" font-weight="normal" stroke="#7f9fd6" stroke-width="0.1" textLength="12.50" lengthAdjust="spacingAndGlyphs">Mar-15</text>
<text transform="translate(597.75 246.90) rotate(90)" font-size="3.4" fill="#7f9fd6" font-weight="normal" stroke="#7f9fd6" stroke-width="0.1" textLength="11.85" lengthAdjust="spacingAndGlyphs">Mar-15</text>
<text transform="translate(597.75 275.00) rotate(90)" font-size="3.4" fill="#7f9fd6" font-weight="normal" stroke="#7f9fd6" stroke-width="0.1" textLength="12.50" lengthAdjust="spacingAndGlyphs">Apr-15</text>
<text transform="translate(597.75 301.90) rotate(90)" font-size="3.4" fill="#7f9fd6" font-weight="normal" stroke="#7f9fd6" stroke-width="0.1" textLength="13.10" lengthAdjust="spacingAndGlyphs">Apr-15</text>
<text transform="translate(597.75 331.90) rotate(90)" font-size="3.4" fill="#7f9fd6" font-weight="normal" stroke="#7f9fd6" stroke-width="0.1" textLength="12.50" lengthAdjust="spacingAndGlyphs">May-15</text>
<text transform="translate(597.75 360.60) rotate(90)" font-size="3.4" fill="#7f9fd6" font-weight="normal" stroke="#7f9fd6" stroke-width="0.1" textLength="13.80" lengthAdjust="spacingAndGlyphs">May-15</text>
<text transform="translate(597.75 390.60) rotate(90)" font-size="3.4" fill="#7f9fd6" font-weight="normal" stroke="#7f9fd6" stroke-width="0.1" textLength="12.50" lengthAdjust="spacingAndGlyphs">Jun-15</text>
<text transform="translate(597.75 417.50) rotate(90)" font-size="3.4" fill="#7f9fd6" font-weight="normal" stroke="#7f9fd6" stroke-width="0.1" textLength="13.10" lengthAdjust="spacingAndGlyphs">Jun-15</text>
<text transform="translate(597.75 447.50) rotate(90)" font-size="3.4" fill="#7f9fd6" font-weight="normal" stroke="#7f9fd6" stroke-width="0.1" textLength="10.60" lengthAdjust="spacingAndGlyphs">Jul-15</text>
<text transform="translate(597.75 475.60) rotate(90)" font-size="3.4" fill="#7f9fd6" font-weight="normal" stroke="#7f9fd6" stroke-width="0.1" textLength="11.30" lengthAdjust="spacingAndGlyphs">Jul-15</text>
<text transform="translate(597.75 505.60) rotate(90)" font-size="3.4" fill="#7f9fd6" font-weight="normal" stroke="#7f9fd6" stroke-width="0.1" textLength="11.30" lengthAdjust="spacingAndGlyphs">Aug-15</text>
<text transform="translate(597.75 535.00) rotate(90)" font-size="3.4" fill="#7f9fd6" font-weight="normal" stroke="#7f9fd6" stroke-width="0.1" textLength="10.00" lengthAdjust="spacingAndGlyphs">Aug-15</text>
<text transform="translate(597.75 563.10) rotate(90)" font-size="3.4" fill="#7f9fd6" font-weight="normal" stroke="#7f9fd6" stroke-width="0.1" textLength="10.00" lengthAdjust="spacingAndGlyphs">Sep-15</text>
<text transform="translate(597.75 591.25) rotate(90)" font-size="3.4" fill="#7f9fd6" font-weight="normal" stroke="#7f9fd6" stroke-width="0.1" textLength="11.85" lengthAdjust="spacingAndGlyphs">Sep-15</text>
<text transform="translate(597.75 620.60) rotate(90)" font-size="3.4" fill="#7f9fd6" font-weight="normal" stroke="#7f9fd6" stroke-width="0.1" textLength="12.50" lengthAdjust="spacingAndGlyphs">Oct-15</text>
<text transform="translate(597.75 651.25) rotate(90)" font-size="3.4" fill="#7f9fd6" font-weight="normal" stroke="#7f9fd6" stroke-width="0.1" textLength="10.65" lengthAdjust="spacingAndGlyphs">Oct-15</text>
<text transform="translate(597.75 678.10) rotate(90)" font-size="3.4" fill="#7f9fd6" font-weight="normal" stroke="#7f9fd6" stroke-width="0.1" textLength="11.30" lengthAdjust="spacingAndGlyphs">Nov-15</text>
<text transform="translate(597.75 708.10) rotate(90)" font-size="3.4" fill="#7f9fd6" font-weight="normal" stroke="#7f9fd6" stroke-width="0.1" textLength="11.90" lengthAdjust="spacingAndGlyphs">Nov-15</text>
<text transform="translate(597.75 735.00) rotate(90)" font-size="3.4" fill="#7f9fd6" font-weight="normal" stroke="#7f9fd6" stroke-width="0.1" textLength="11.90" lengthAdjust="spacingAndGlyphs">Dec-15</text>
<text transform="translate(597.75 766.90) rotate(90)" font-size="3.4" fill="#7f9fd6" font-weight="normal" stroke="#7f9fd6" stroke-width="0.1" textLength="10.00" lengthAdjust="spacingAndGlyphs">Dec-15</text>
<text transform="translate(597.90 795.40) rotate(90)" font-size="5.7" fill="#b8cce4" font-weight="normal" stroke="#b8cce4" stroke-width="0.2" textLength="65.40" lengthAdjust="spacingAndGlyphs">January-December 2015</text>
<text transform="translate(597.90 886.40) rotate(90)" font-size="5.7" fill="#b8cce4" font-weight="normal" stroke="#b8cce4" stroke-width="0.2" textLength="65.60" lengthAdjust="spacingAndGlyphs">January-December 2015</text>
<rect x="608.10" y="33.10" width="8.20" height="62.90" fill="#00b050"/>
<rect x="616.30" y="33.10" width="7.00" height="62.90" fill="#31859c"/>
<rect x="623.30" y="33.10" width="6.90" height="62.90" fill="#d7e4bc"/>
<rect x="630.20" y="33.10" width="7.20" height="62.90" fill="#fac090"/>
<rect x="637.40" y="33.10" width="6.40" height="62.90" fill="#c00000"/>
<rect x="643.80" y="33.10" width="7.80" height="62.90" fill="#ffffff"/>
<rect x="644.20" y="33.40" width="7.20" height="63.10" fill="#fff" stroke="#111" stroke-width="0.9"/>
<text transform="translate(609.40 97.10) rotate(90)" font-size="4.5" fill="#2e2e2e" font-weight="normal" textLength="40.40" lengthAdjust="spacingAndGlyphs">Actual Completions</text>
<text transform="translate(610.00 92.00) rotate(90)" font-size="3.6" fill="#111" font-weight="bold" textLength="2.30" lengthAdjust="spacingAndGlyphs">6</text>
<text transform="translate(617.20 97.10) rotate(90)" font-size="4.5" fill="#2e2e2e" font-weight="normal" textLength="28.40" lengthAdjust="spacingAndGlyphs">Upon request</text>
<text transform="translate(617.90 92.00) rotate(90)" font-size="3.6" fill="#111" font-weight="bold" textLength="2.30" lengthAdjust="spacingAndGlyphs">5</text>
<text transform="translate(623.90 97.10) rotate(90)" font-size="4.5" fill="#2e2e2e" font-weight="normal" textLength="16.70" lengthAdjust="spacingAndGlyphs">Support</text>
<text transform="translate(625.20 92.00) rotate(90)" font-size="3.6" fill="#111" font-weight="bold" textLength="2.30" lengthAdjust="spacingAndGlyphs">4</text>
<text transform="translate(631.60 97.10) rotate(90)" font-size="4.5" fill="#2e2e2e" font-weight="normal" textLength="27.20" lengthAdjust="spacingAndGlyphs">Discretionary</text>
<text transform="translate(632.20 92.00) rotate(90)" font-size="3.6" fill="#111" font-weight="bold" textLength="2.30" lengthAdjust="spacingAndGlyphs">3</text>
<text transform="translate(638.30 97.10) rotate(90)" font-size="4.5" fill="#2e2e2e" font-weight="normal" textLength="23.10" lengthAdjust="spacingAndGlyphs">Mandatory</text>
<text transform="translate(638.90 92.00) rotate(90)" font-size="3.6" fill="#111" font-weight="bold" textLength="2.30" lengthAdjust="spacingAndGlyphs">2</text>
<text transform="translate(645.60 97.10) rotate(90)" font-size="4.5" fill="#2e2e2e" font-weight="normal" textLength="10.80" lengthAdjust="spacingAndGlyphs">Blank</text>
<text transform="translate(646.00 92.00) rotate(90)" font-size="3.6" fill="#111" font-weight="bold" textLength="2.30" lengthAdjust="spacingAndGlyphs">1</text>
<text transform="translate(652.30 33.20) rotate(90)" font-size="4.7" fill="#111" font-weight="bold" textLength="16.40" lengthAdjust="spacingAndGlyphs" text-decoration="underline">Legend:</text>
<text transform="translate(688.70 437.00) rotate(90)" font-size="14.0" fill="#111" font-weight="bold" textLength="154.00" lengthAdjust="spacingAndGlyphs">TRAINING MATRIX 2015</text>
<rect x="686.60" y="436.80" width="1.00" height="155.80" fill="#111"/>
</svg>
</body>
</html>
